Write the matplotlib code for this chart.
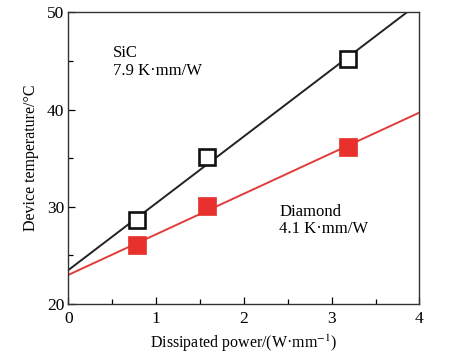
import numpy as np
import matplotlib
matplotlib.use("Agg")
from matplotlib import pyplot as plt

plt.rcParams['font.family'] = ['Liberation Serif', 'DejaVu Serif']
plt.rcParams['mathtext.fontset'] = 'stix'

# measured points
power = [0.78, 1.58, 3.18]
sic_temp = [28.6, 35.1, 45.2]
diamond_temp = [26.1, 30.1, 36.2]

# fitted lines (end points)
fit_x = [0, 4]
sic_fit = [23.5, 51.0]
diamond_fit = [23.0, 39.7]

fig = plt.figure(figsize=(4.74, 3.55), dpi=100)
ax = fig.add_axes([0.1445, 0.1437, 0.7405, 0.8213])

ax.plot(fit_x, sic_fit, color='#222222', lw=1.4, zorder=2)
ax.plot(fit_x, diamond_fit, color='#e23b3b', lw=1.4, zorder=2)
ax.plot(power, sic_temp, 's', ms=11, mfc='white', mec='#111111', mew=1.9, zorder=3)
ax.plot(power, diamond_temp, 's', ms=12.5, mfc='#e8302c', mec='#e8302c', mew=0.5, zorder=3)

ax.text(0.51, 44.9, "SiC\n7.9 K·mm/W", fontsize=12, va='center', ha='left', linespacing=1.1)
ax.text(2.4, 28.55, "Diamond\n4.1 K·mm/W", fontsize=12, va='center', ha='left', linespacing=1.1)

ax.set_xlim(0, 4)
ax.set_ylim(20, 50)
ax.set_xticks([0, 1, 2, 3, 4])
ax.set_xticks([0.5, 1.5, 2.5, 3.5], minor=True)
ax.set_yticks([20, 30, 40, 50])
ax.set_yticks([25, 35, 45], minor=True)
ax.tick_params(which='both', direction='in', labelsize=12.5, width=0.9)
ax.tick_params(which='major', length=5, pad=3)
ax.tick_params(axis='x', which='major', pad=5)
ax.tick_params(which='minor', length=3.5)
for s in ax.spines.values():
    s.set_linewidth(1.0)
    s.set_color('#333333')

ax.set_xlabel("Dissipated power/(W·mm$^{-1}$)", fontsize=11.5, labelpad=4)
ax.set_ylabel("Device temperature/°C", fontsize=11.5, labelpad=6)

fig.savefig("out.png", dpi=100)
